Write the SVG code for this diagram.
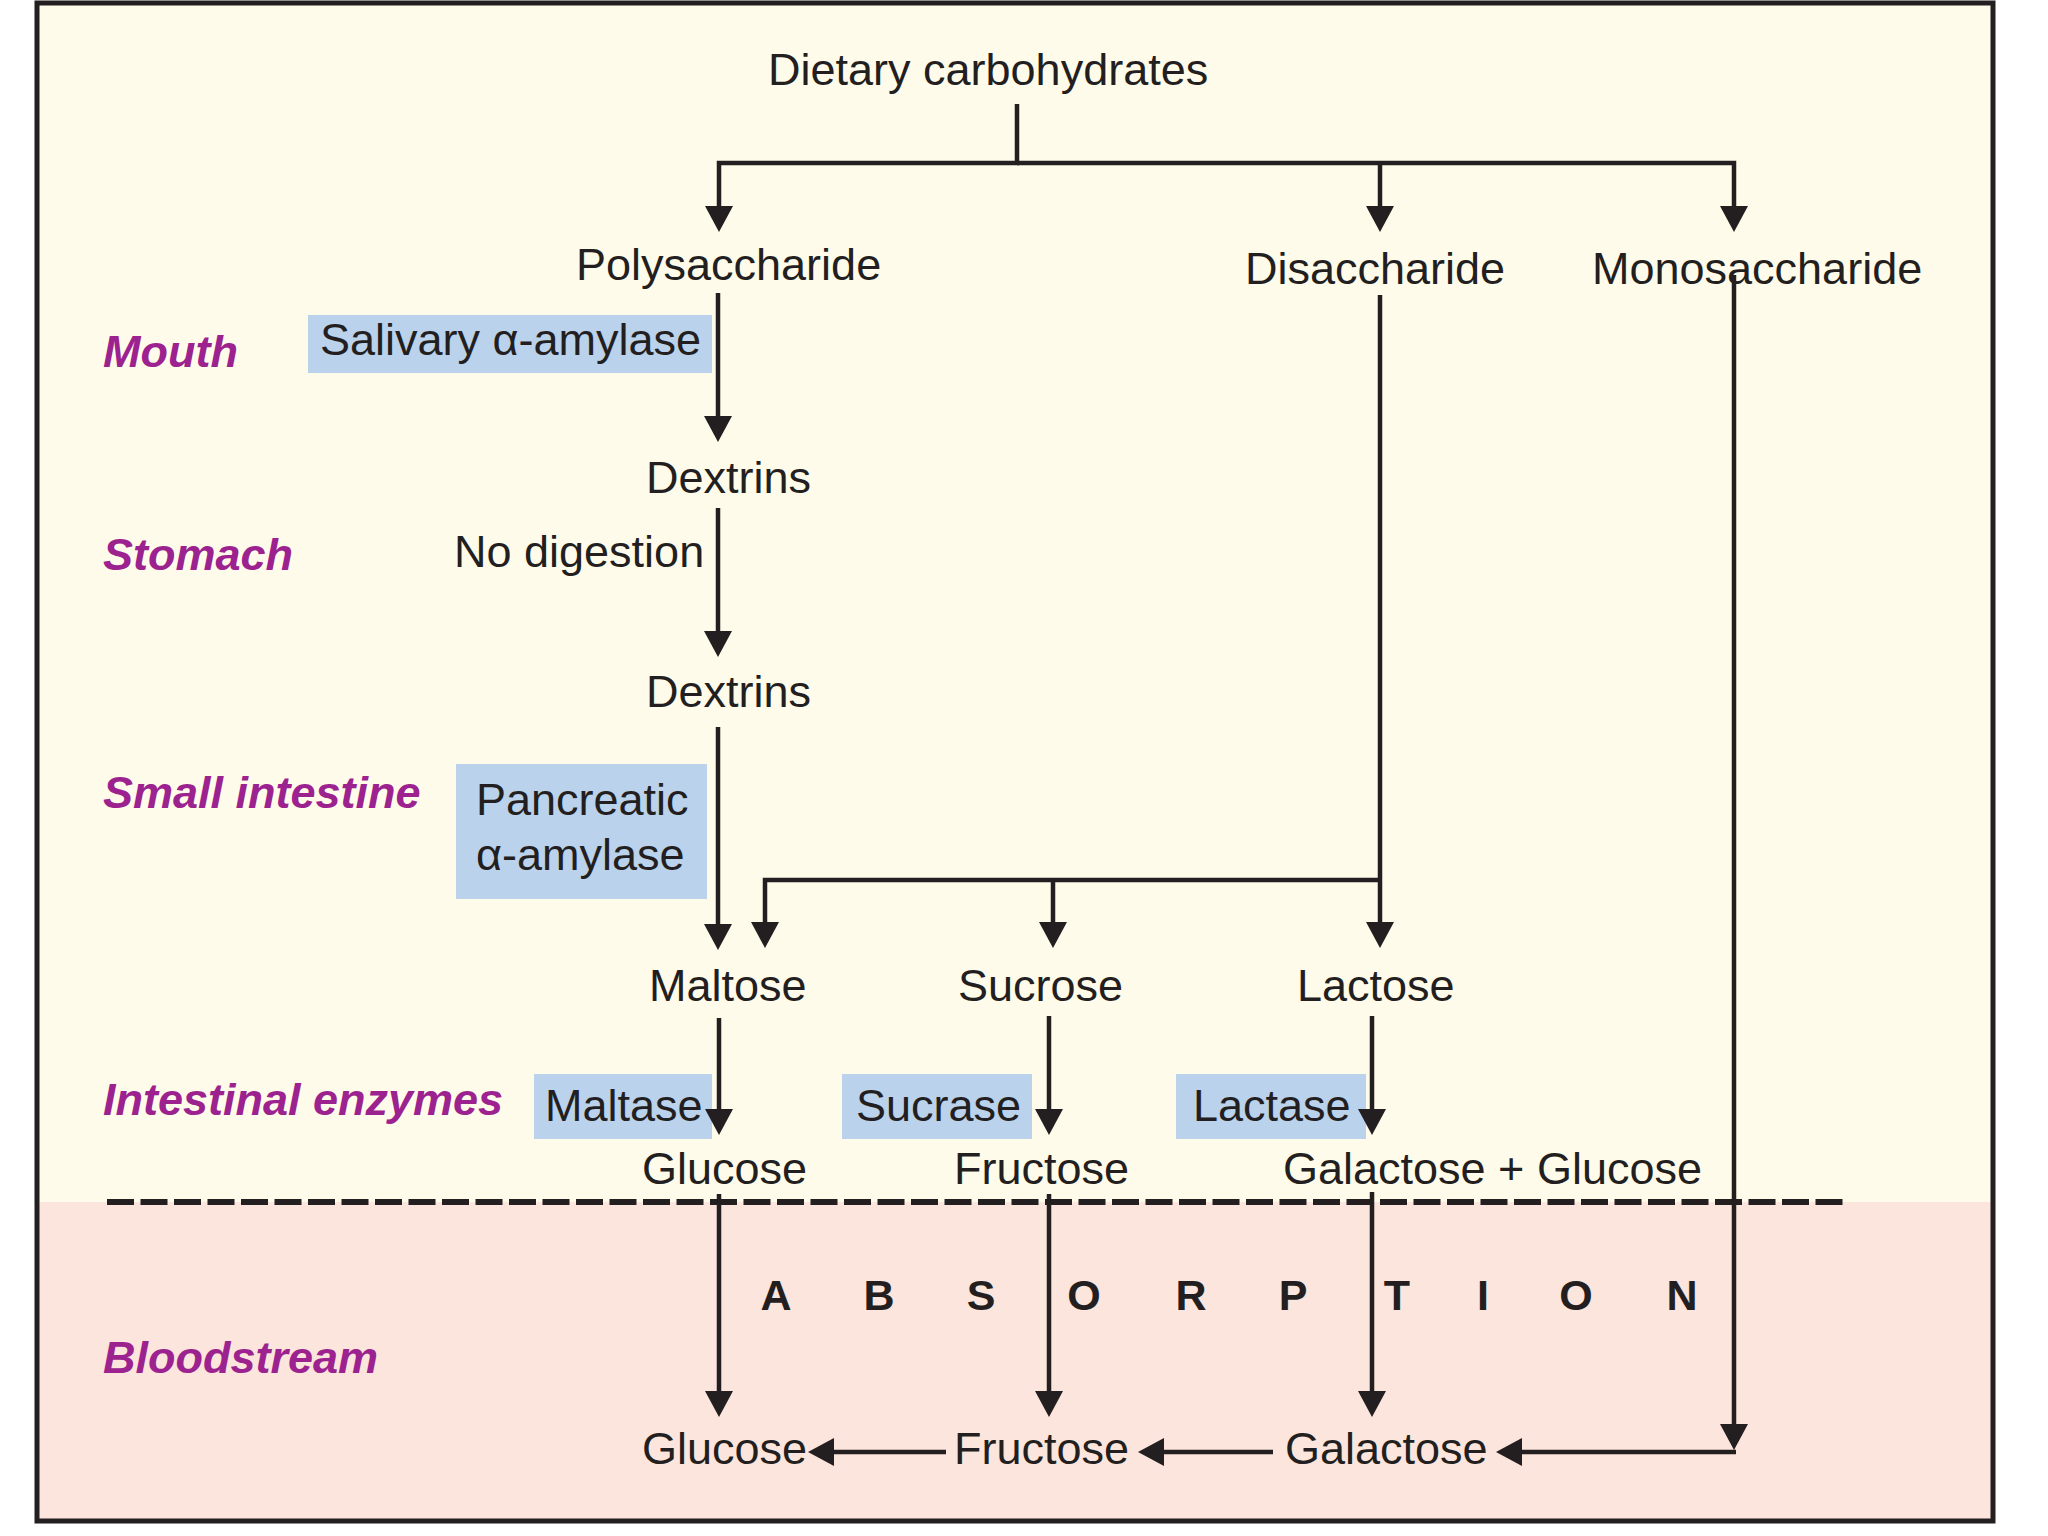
<svg xmlns="http://www.w3.org/2000/svg" width="2048" height="1536" viewBox="0 0 2048 1536">
<style>
.t{font-family:"Liberation Sans",Arial,sans-serif;font-size:45px;fill:#231f20}
.lbl{font-family:"Liberation Sans",Arial,sans-serif;font-size:45px;font-weight:bold;font-style:italic;fill:#9c238f}
.abs{font-family:"Liberation Sans",Arial,sans-serif;font-size:43px;font-weight:bold;fill:#231f20}
.box{fill:#bad2ec}
.c{fill:none;stroke:#231f20;stroke-width:4.5;stroke-linejoin:miter}
.arr{marker-end:url(#ah)}
</style>
<defs>
<marker id="ah" markerUnits="userSpaceOnUse" markerWidth="26" markerHeight="28" refX="18" refY="14" orient="auto" viewBox="0 0 26 28">
<path d="M0,0 L26,14 L0,28 Z" fill="#231f20"/>
</marker>
</defs>
<rect x="0" y="0" width="2048" height="1536" fill="#ffffff"/>
<g id="background">
<rect x="37" y="3" width="1956" height="1518" fill="#fffbea"/>
<rect x="37" y="1202" width="1956" height="319" fill="#fce5dc"/>
<rect x="37" y="3" width="1956" height="1518" fill="none" stroke="#231f20" stroke-width="5"/>
<line x1="107" y1="1202" x2="1844" y2="1202" stroke="#231f20" stroke-width="6" stroke-dasharray="27 6.5"/>
</g>
<g id="region-labels">
<text class="lbl" x="103" y="367">Mouth</text>
<text class="lbl" x="103" y="570">Stomach</text>
<text class="lbl" x="103" y="808">Small intestine</text>
<text class="lbl" x="103" y="1115">Intestinal enzymes</text>
<text class="lbl" x="103" y="1373">Bloodstream</text>
</g>
<g id="enzyme-salivary"><rect class="box" x="308" y="315" width="404" height="58"/><text class="t" x="320" y="355">Salivary α-amylase</text></g>
<g id="enzyme-pancreatic"><rect class="box" x="456" y="764" width="251" height="135"/><text class="t" x="476" y="815">Pancreatic</text><text class="t" x="476" y="870">α-amylase</text></g>
<g id="enzyme-maltase"><rect class="box" x="534" y="1074" width="178" height="65"/><text class="t" x="545" y="1121">Maltase</text></g>
<g id="enzyme-sucrase"><rect class="box" x="842" y="1074" width="190" height="65"/><text class="t" x="856" y="1121">Sucrase</text></g>
<g id="enzyme-lactase"><rect class="box" x="1176" y="1074" width="190" height="65"/><text class="t" x="1193" y="1121">Lactase</text></g>
<g id="node-dietary"><text class="t" x="768" y="85">Dietary carbohydrates</text></g>
<g id="node-polysaccharide"><text class="t" x="576" y="280">Polysaccharide</text></g>
<g id="node-disaccharide"><text class="t" x="1245" y="284">Disaccharide</text></g>
<g id="node-monosaccharide"><text class="t" x="1592" y="284">Monosaccharide</text></g>
<g id="node-dextrins1"><text class="t" x="646" y="493">Dextrins</text></g>
<g id="note-nodigestion"><text class="t" x="454" y="567">No digestion</text></g>
<g id="node-dextrins2"><text class="t" x="646" y="707">Dextrins</text></g>
<g id="node-maltose"><text class="t" x="649" y="1001">Maltose</text></g>
<g id="node-sucrose"><text class="t" x="958" y="1001">Sucrose</text></g>
<g id="node-lactose"><text class="t" x="1297" y="1001">Lactose</text></g>
<g id="node-glucose1"><text class="t" x="642" y="1184">Glucose</text></g>
<g id="node-fructose1"><text class="t" x="954" y="1184">Fructose</text></g>
<g id="node-galglc"><text class="t" x="1283" y="1184">Galactose + Glucose</text></g>
<g id="absorption-label"><text class="abs" text-anchor="middle" x="776 879 981 1084 1191 1293 1397 1483 1576 1682" y="1310">ABSORPTION</text></g>
<g id="node-glucose2"><text class="t" x="642" y="1464">Glucose</text></g>
<g id="node-fructose2"><text class="t" x="954" y="1464">Fructose</text></g>
<g id="node-galactose2"><text class="t" x="1285" y="1464">Galactose</text></g>
<g id="connectors">
<path class="c arr" d="M1017,104 V163 H719 V224"/>
<path class="c arr" d="M1017,163 H1734 V224"/>
<path class="c arr" d="M1380,163 V224"/>
<path class="c arr" d="M718,293 V434"/>
<path class="c arr" d="M718,508 V649"/>
<path class="c arr" d="M718,727 V942"/>
<path class="c arr" d="M1380,295 V940"/>
<path class="c arr" d="M1380,880 H765 V940"/>
<path class="c arr" d="M1053,880 V940"/>
<path class="c arr" d="M719,1018 V1127"/>
<path class="c arr" d="M1049,1016 V1127"/>
<path class="c arr" d="M1372,1016 V1127"/>
<path class="c arr" d="M719,1194 V1409"/>
<path class="c arr" d="M1049,1194 V1409"/>
<path class="c arr" d="M1372,1192 V1409"/>
<path class="c arr" d="M1734,275 V1442"/>
<path class="c arr" d="M1736,1452 H1504"/>
<path class="c arr" d="M1273,1452 H1146"/>
<path class="c arr" d="M946,1452 H816"/>
</g>
</svg>
